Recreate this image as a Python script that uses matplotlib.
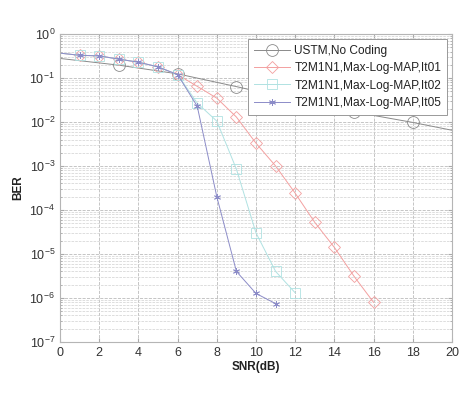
import numpy as np
import matplotlib
matplotlib.use("Agg")
import matplotlib.pyplot as plt
from matplotlib.ticker import LogLocator, NullFormatter

plt.rcParams['font.family'] = ['Liberation Sans', 'DejaVu Sans']
plt.rcParams['mathtext.fontset'] = 'custom'
plt.rcParams['mathtext.rm'] = 'Liberation Sans'
plt.rcParams['mathtext.it'] = 'Liberation Sans:italic'

# values
snr_unc = [0, 3, 6, 9, 12, 15, 18, 21]
ber_unc = [0.28, 0.197, 0.125, 0.064, 0.032, 0.017, 0.0098, 0.0053]

snr_it01 = [0, 1, 2, 3, 4, 5, 6, 7, 8, 9, 10, 11, 12, 13, 14, 15, 16]
ber_it01 = [0.37, 0.33, 0.32, 0.27, 0.23, 0.18, 0.12, 0.065, 0.035, 0.013,
            3.3e-3, 1.0e-3, 2.4e-4, 5.2e-5, 1.4e-5, 3.1e-6, 7.9e-7]

snr_it02 = [0, 1, 2, 3, 4, 5, 6, 7, 8, 9, 10, 11, 12]
ber_it02 = [0.37, 0.33, 0.32, 0.27, 0.23, 0.18, 0.12, 0.027, 0.0105, 8.5e-4,
            3.0e-5, 4.0e-6, 1.3e-6]

snr_it05 = [0, 1, 2, 3, 4, 5, 6, 7, 8, 9, 10, 11]
ber_it05 = [0.37, 0.33, 0.32, 0.27, 0.23, 0.18, 0.12, 0.023, 2.0e-4, 4.0e-6,
            1.26e-6, 7.4e-7]

labels = ['USTM,No Coding', 'T2M1N1,Max-Log-MAP,It01',
          'T2M1N1,Max-Log-MAP,It02', 'T2M1N1,Max-Log-MAP,It05']

fig = plt.figure(figsize=(4.74, 3.97), dpi=100)
ax = fig.add_axes([0.1266, 0.139, 0.827, 0.775])

lw = 0.7
skip0 = slice(1, None)
ax.semilogy(snr_unc, ber_unc, color='#8a8a8a', lw=lw, marker='o', ms=8.5,
            mfc='none', mew=0.6, markevery=skip0, label=labels[0])
ax.semilogy(snr_it01, ber_it01, color='#f3a0a0', lw=lw, marker='D', ms=6.5,
            mfc='none', mew=0.6, markevery=skip0, label=labels[1])
ax.semilogy(snr_it02, ber_it02, color='#b0e2e2', lw=lw, marker='s', ms=6.5,
            mfc='none', mew=0.6, markevery=skip0, label=labels[2])
ax.semilogy(snr_it05, ber_it05, color='#8c8cc8', lw=lw, marker=(6, 2, 0), ms=5,
            mfc='none', mew=0.6, markevery=skip0, label=labels[3])

ax.set_xlim(0, 20)
ax.set_ylim(1e-7, 1)
ax.set_xticks(np.arange(0, 21, 2))
ax.yaxis.set_major_locator(LogLocator(base=10, numticks=10))
ax.yaxis.set_minor_locator(LogLocator(base=10, subs=np.arange(2, 10), numticks=100))
ax.yaxis.set_minor_formatter(NullFormatter())

ax.grid(True, which='major', ls='--', color='#bbbbbb', lw=0.6)
ax.grid(True, which='minor', axis='y', ls='--', color='#d0d0d0', lw=0.5)

ax.tick_params(direction='in', which='both', top=True, right=True,
               colors='#aaaaaa', labelcolor='#333333', labelsize=9)
ax.tick_params(which='major', length=3)
ax.tick_params(which='minor', length=1.5)
for s in ax.spines.values():
    s.set_color('#b5b5b5')
    s.set_linewidth(0.8)

ax.set_xlabel('SNR(dB)', fontsize=8.5, fontweight='bold', color='#222222', labelpad=2)
ax.set_ylabel('BER', fontsize=8.5, fontweight='bold', color='#222222', labelpad=4)

leg = ax.legend(loc='upper right', fontsize=8.6, labelspacing=0.45,
                handlelength=3.0, handletextpad=0.4, borderaxespad=0.4,
                borderpad=0.5, fancybox=False, framealpha=1, edgecolor='#999999')
leg.get_frame().set_linewidth(0.7)
for t in leg.get_texts():
    t.set_color('#222222')

fig.savefig('out.png', dpi=100)
